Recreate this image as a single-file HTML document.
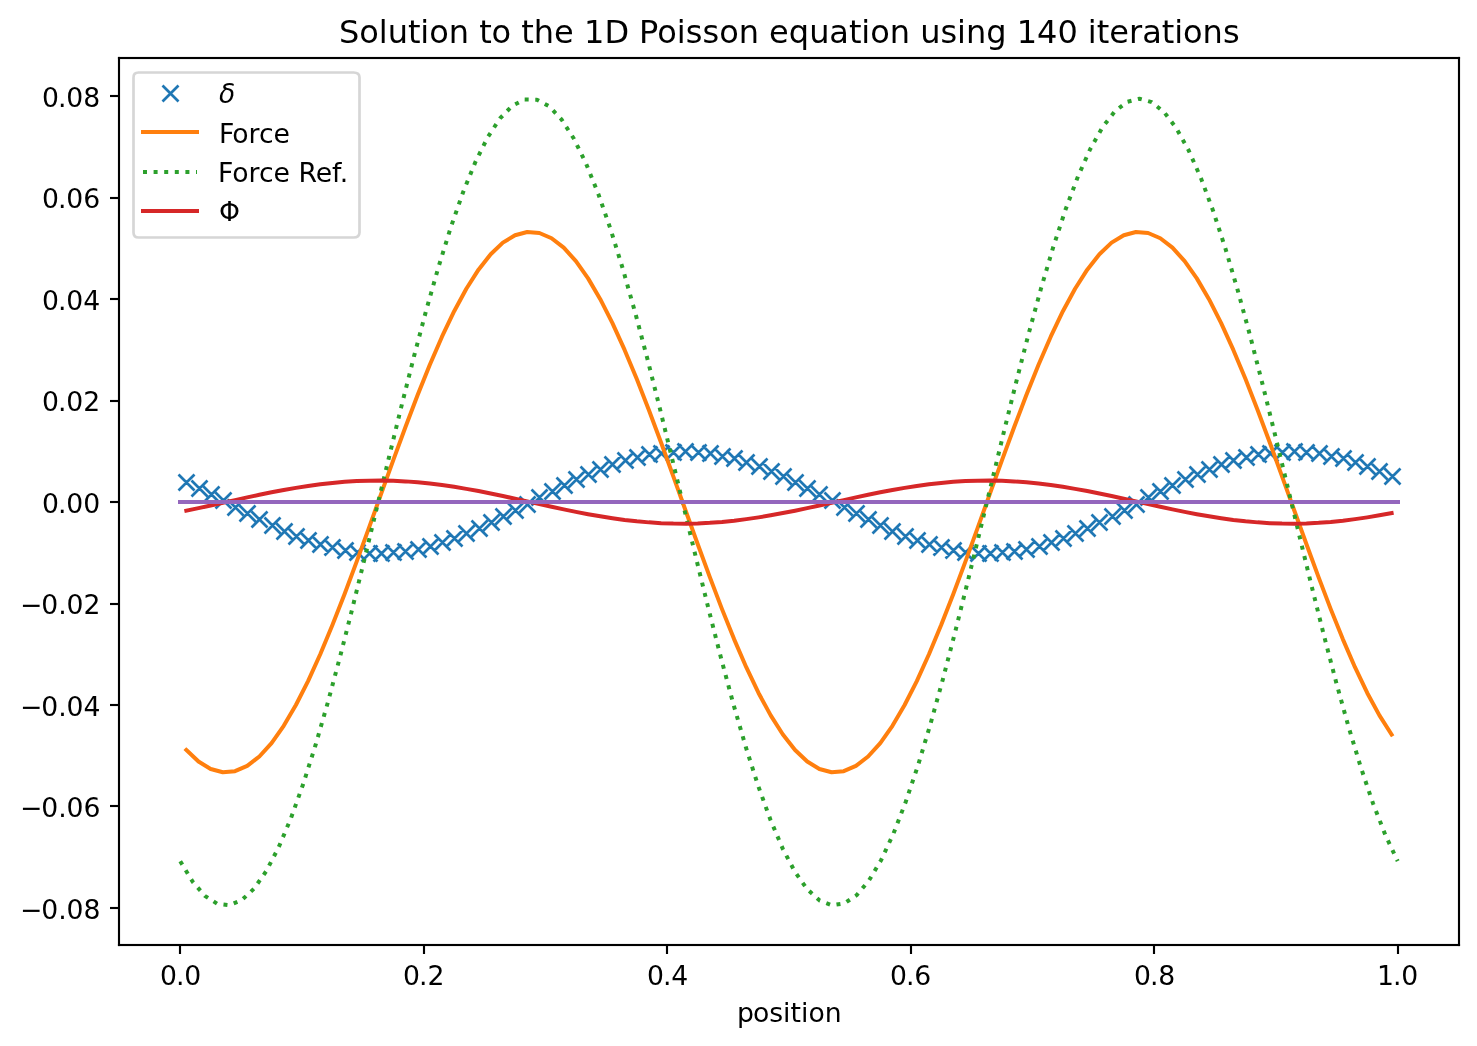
<!DOCTYPE html>
<html lang="en"><head><meta charset="utf-8"><title>Solution to the 1D Poisson equation</title>
<style>html,body{margin:0;padding:0;background:#fff}body{width:1477px;height:1046px;overflow:hidden;position:relative}</style>
</head><body>
<svg width="1477" height="1046" viewBox="0 0 1477 1046" style="position:absolute;left:0;top:0;display:block">
<rect x="0" y="0" width="1477" height="1046" fill="#ffffff"/>
<defs><clipPath id="axclip"><rect x="119.37" y="58.43" width="1339.2" height="887.04"/></clipPath></defs>
<text x="160.01 175.89 184.26" y="985" font-size="26.67" style="font-family:'DejaVu Sans','Liberation Sans',sans-serif">0.0</text>
<text x="402.96 418.96 427.46" y="985" font-size="26.67" style="font-family:'DejaVu Sans','Liberation Sans',sans-serif">0.2</text>
<text x="646.97 662.97 671.22" y="985" font-size="26.67" style="font-family:'DejaVu Sans','Liberation Sans',sans-serif">0.4</text>
<text x="889.98 906.1 914.23" y="985" font-size="26.67" style="font-family:'DejaVu Sans','Liberation Sans',sans-serif">0.6</text>
<text x="1133.89 1149.89 1158.14" y="985" font-size="26.67" style="font-family:'DejaVu Sans','Liberation Sans',sans-serif">0.8</text>
<text x="1377.03 1393.03 1401.28" y="985" font-size="26.67" style="font-family:'DejaVu Sans','Liberation Sans',sans-serif">1.0</text>
<text x="19.9 41.15 58.15 66.4 83.4" y="919" font-size="26.67" style="font-family:'DejaVu Sans','Liberation Sans',sans-serif">−0.08</text>
<text x="20.12 41.37 58.37 66.62 83.62" y="817" font-size="26.67" style="font-family:'DejaVu Sans','Liberation Sans',sans-serif">−0.06</text>
<text x="19.96 41.21 58.21 66.59 83.46" y="716" font-size="26.67" style="font-family:'DejaVu Sans','Liberation Sans',sans-serif">−0.04</text>
<text x="20.08 41.33 58.33 66.58 83.58" y="614" font-size="26.67" style="font-family:'DejaVu Sans','Liberation Sans',sans-serif">−0.02</text>
<text x="41.98 57.98 66.23 83.23" y="513" font-size="26.67" style="font-family:'DejaVu Sans','Liberation Sans',sans-serif">0.00</text>
<text x="41.96 58.08 66.33 83.21" y="411" font-size="26.67" style="font-family:'DejaVu Sans','Liberation Sans',sans-serif">0.02</text>
<text x="41.91 57.91 66.16 83.16" y="310" font-size="26.67" style="font-family:'DejaVu Sans','Liberation Sans',sans-serif">0.04</text>
<text x="42.05 58.05 66.3 83.3" y="208" font-size="26.67" style="font-family:'DejaVu Sans','Liberation Sans',sans-serif">0.06</text>
<text x="41.9 58.02 66.27 83.15" y="107" font-size="26.67" style="font-family:'DejaVu Sans','Liberation Sans',sans-serif">0.08</text>
<path d="M180 945v9M424 945v9M667 945v9M911 945v9M1154 945v9M1398 945v9M119 908h-9M119 806h-9M119 705h-9M119 604h-9M119 502h-9M119 401h-9M119 299h-9M119 198h-9M119 96h-9" fill="none" stroke="#000" stroke-width="2.13"/>
<text x="737.11 753.11 769.36 783.11 790.61 800.99 808.61 824.74" y="1022" font-size="26.67" style="font-family:'DejaVu Sans','Liberation Sans',sans-serif">position</text>
<path d="M178.5 490.5l16 -16m-16 0l16 16M191.5 496.5l16 -16m-16 0l16 16M203.5 502.5l16 -16m-16 0l16 16M215.5 508.5l16 -16m-16 0l16 16M227.5 515.5l16 -16m-16 0l16 16M239.5 521.5l16 -16m-16 0l16 16M251.5 527.5l16 -16m-16 0l16 16M264.5 533.5l16 -16m-16 0l16 16M276.5 539.5l16 -16m-16 0l16 16M288.5 544.5l16 -16m-16 0l16 16M300.5 548.5l16 -16m-16 0l16 16M312.5 552.5l16 -16m-16 0l16 16M324.5 555.5l16 -16m-16 0l16 16M337.5 558.5l16 -16m-16 0l16 16M349.5 560.5l16 -16m-16 0l16 16M361.5 561.5l16 -16m-16 0l16 16M373.5 561.5l16 -16m-16 0l16 16M385.5 560.5l16 -16m-16 0l16 16M397.5 559.5l16 -16m-16 0l16 16M410.5 557.5l16 -16m-16 0l16 16M422.5 554.5l16 -16m-16 0l16 16M434.5 550.5l16 -16m-16 0l16 16M446.5 546.5l16 -16m-16 0l16 16M458.5 541.5l16 -16m-16 0l16 16M471.5 536.5l16 -16m-16 0l16 16M483.5 530.5l16 -16m-16 0l16 16M495.5 524.5l16 -16m-16 0l16 16M507.5 518.5l16 -16m-16 0l16 16M519.5 512.5l16 -16m-16 0l16 16M531.5 505.5l16 -16m-16 0l16 16M544.5 499.5l16 -16m-16 0l16 16M556.5 493.5l16 -16m-16 0l16 16M568.5 487.5l16 -16m-16 0l16 16M580.5 482.5l16 -16m-16 0l16 16M592.5 477.5l16 -16m-16 0l16 16M604.5 472.5l16 -16m-16 0l16 16M617.5 468.5l16 -16m-16 0l16 16M629.5 465.5l16 -16m-16 0l16 16M641.5 462.5l16 -16m-16 0l16 16M653.5 461.5l16 -16m-16 0l16 16M665.5 460.5l16 -16m-16 0l16 16M677.5 459.5l16 -16m-16 0l16 16M690.5 460.5l16 -16m-16 0l16 16M702.5 461.5l16 -16m-16 0l16 16M714.5 464.5l16 -16m-16 0l16 16M726.5 466.5l16 -16m-16 0l16 16M738.5 470.5l16 -16m-16 0l16 16M751.5 474.5l16 -16m-16 0l16 16M763.5 479.5l16 -16m-16 0l16 16M775.5 484.5l16 -16m-16 0l16 16M787.5 490.5l16 -16m-16 0l16 16M799.5 496.5l16 -16m-16 0l16 16M811.5 502.5l16 -16m-16 0l16 16M824.5 508.5l16 -16m-16 0l16 16M836.5 515.5l16 -16m-16 0l16 16M848.5 521.5l16 -16m-16 0l16 16M860.5 527.5l16 -16m-16 0l16 16M872.5 533.5l16 -16m-16 0l16 16M884.5 539.5l16 -16m-16 0l16 16M897.5 544.5l16 -16m-16 0l16 16M909.5 548.5l16 -16m-16 0l16 16M921.5 552.5l16 -16m-16 0l16 16M933.5 555.5l16 -16m-16 0l16 16M945.5 558.5l16 -16m-16 0l16 16M957.5 560.5l16 -16m-16 0l16 16M970.5 561.5l16 -16m-16 0l16 16M982.5 561.5l16 -16m-16 0l16 16M994.5 560.5l16 -16m-16 0l16 16M1006.5 559.5l16 -16m-16 0l16 16M1018.5 557.5l16 -16m-16 0l16 16M1031.5 554.5l16 -16m-16 0l16 16M1043.5 550.5l16 -16m-16 0l16 16M1055.5 546.5l16 -16m-16 0l16 16M1067.5 541.5l16 -16m-16 0l16 16M1079.5 536.5l16 -16m-16 0l16 16M1091.5 530.5l16 -16m-16 0l16 16M1104.5 524.5l16 -16m-16 0l16 16M1116.5 518.5l16 -16m-16 0l16 16M1128.5 512.5l16 -16m-16 0l16 16M1140.5 505.5l16 -16m-16 0l16 16M1152.5 499.5l16 -16m-16 0l16 16M1164.5 493.5l16 -16m-16 0l16 16M1177.5 487.5l16 -16m-16 0l16 16M1189.5 482.5l16 -16m-16 0l16 16M1201.5 477.5l16 -16m-16 0l16 16M1213.5 472.5l16 -16m-16 0l16 16M1225.5 468.5l16 -16m-16 0l16 16M1238.5 465.5l16 -16m-16 0l16 16M1250.5 462.5l16 -16m-16 0l16 16M1262.5 461.5l16 -16m-16 0l16 16M1274.5 460.5l16 -16m-16 0l16 16M1286.5 459.5l16 -16m-16 0l16 16M1298.5 460.5l16 -16m-16 0l16 16M1311.5 461.5l16 -16m-16 0l16 16M1323.5 464.5l16 -16m-16 0l16 16M1335.5 466.5l16 -16m-16 0l16 16M1347.5 470.5l16 -16m-16 0l16 16M1359.5 474.5l16 -16m-16 0l16 16M1371.5 479.5l16 -16m-16 0l16 16M1384.5 484.5l16 -16m-16 0l16 16" fill="none" stroke="#1f77b4" stroke-width="2.67" clip-path="url(#axclip)"/>
<path d="M186.33 749.98L198.50 761.52L210.68 768.96L222.85 772.20L235.02 771.17L247.20 765.91L259.37 756.48L271.55 743.04L283.72 725.80L295.90 705.03L308.07 681.07L320.25 654.27L332.42 625.08L344.60 593.95L356.77 561.38L368.94 527.86L381.12 493.94L393.29 460.15L405.47 427.02L417.64 395.07L429.82 364.81L441.99 336.72L454.17 311.23L466.34 288.76L478.52 269.65L490.69 254.20L502.86 242.66L515.04 235.22L527.21 231.98L539.39 233.01L551.56 238.27L563.74 247.70L575.91 261.14L588.09 278.38L600.26 299.15L612.44 323.11L624.61 349.91L636.78 379.10L648.96 410.23L661.13 442.80L673.31 476.32L685.48 510.24L697.66 544.03L709.83 577.16L722.01 609.11L734.18 639.37L746.36 667.46L758.53 692.95L770.70 715.42L782.88 734.53L795.05 749.98L807.23 761.52L819.40 768.96L831.58 772.20L843.75 771.17L855.93 765.91L868.10 756.48L880.28 743.04L892.45 725.80L904.62 705.03L916.80 681.07L928.97 654.27L941.15 625.08L953.32 593.95L965.50 561.38L977.67 527.86L989.85 493.94L1002.02 460.15L1014.20 427.02L1026.37 395.07L1038.54 364.81L1050.72 336.72L1062.89 311.23L1075.07 288.76L1087.24 269.65L1099.42 254.20L1111.59 242.66L1123.77 235.22L1135.94 231.98L1148.12 233.01L1160.29 238.27L1172.46 247.70L1184.64 261.14L1196.81 278.38L1208.99 299.15L1221.16 323.11L1233.34 349.91L1245.51 379.10L1257.69 410.23L1269.86 442.80L1282.04 476.32L1294.21 510.24L1306.38 544.03L1318.56 577.16L1330.73 609.11L1342.91 639.37L1355.08 667.46L1367.26 692.95L1379.43 715.42L1391.61 734.53" fill="none" stroke="#ff7f0e" stroke-width="4" stroke-linecap="square" stroke-linejoin="round" clip-path="url(#axclip)"/>
<path d="M180.24 861.22L192.54 881.57L204.83 895.81L217.13 903.72L229.43 905.16L241.73 900.12L254.02 888.68L266.32 871.01L278.62 847.41L290.92 818.25L303.21 784.00L315.51 745.22L327.81 702.53L340.11 656.61L352.40 608.20L364.70 558.09L377.00 507.08L389.30 455.98L401.59 405.63L413.89 356.83L426.19 310.37L438.49 266.99L450.78 227.40L463.08 192.22L475.38 162.03L487.68 137.31L499.97 118.47L512.27 105.79L524.57 99.49L536.87 99.67L549.17 106.33L561.46 119.35L573.76 138.53L586.06 163.56L598.36 194.04L610.65 229.47L622.95 269.29L635.25 312.86L647.55 359.47L659.84 408.38L672.14 458.79L684.44 509.90L696.74 560.89L709.03 610.93L721.33 659.21L733.63 704.97L745.93 747.47L758.22 786.02L770.52 820.00L782.82 848.86L795.12 872.14L807.41 889.47L819.71 900.57L832.01 905.25L844.31 903.45L856.60 895.19L868.90 880.60L881.20 859.93L893.50 833.49L905.79 801.73L918.09 765.14L930.39 724.32L942.69 679.93L954.98 632.67L967.28 583.31L979.58 532.64L991.88 481.49L1004.17 430.66L1016.47 380.99L1028.77 333.26L1041.07 288.25L1053.36 246.68L1065.66 209.22L1077.96 176.47L1090.26 148.96L1102.55 127.13L1114.85 111.34L1127.15 101.84L1139.45 98.77L1151.74 102.19L1164.04 112.05L1176.34 128.18L1188.64 150.34L1200.93 178.15L1213.23 211.17L1225.53 248.87L1237.83 290.65L1250.12 335.83L1262.42 383.69L1274.72 433.45L1287.02 484.31L1299.31 535.46L1311.61 586.08L1323.91 635.34L1336.21 682.46L1348.50 726.67L1360.80 767.28L1373.10 803.61L1385.40 835.10L1397.69 861.22" fill="none" stroke="#2ca02c" stroke-width="4" stroke-linecap="butt" stroke-linejoin="round" stroke-dasharray="4 6.6" clip-path="url(#axclip)"/>
<path d="M186.33 510.68L198.50 508.13L210.68 505.49L222.85 502.79L235.02 500.09L247.20 497.41L259.37 494.81L271.55 492.33L283.72 489.99L295.90 487.85L308.07 485.93L320.25 484.27L332.42 482.89L344.60 481.81L356.77 481.05L368.94 480.63L381.12 480.54L393.29 480.79L405.47 481.38L417.64 482.29L429.82 483.52L441.99 485.04L454.17 486.82L466.34 488.85L478.52 491.09L490.69 493.50L502.86 496.05L515.04 498.69L527.21 501.39L539.39 504.09L551.56 506.77L563.74 509.37L575.91 511.85L588.09 514.19L600.26 516.33L612.44 518.25L624.61 519.91L636.78 521.29L648.96 522.37L661.13 523.13L673.31 523.55L685.48 523.64L697.66 523.39L709.83 522.80L722.01 521.89L734.18 520.66L746.36 519.14L758.53 517.36L770.70 515.33L782.88 513.09L795.05 510.68L807.23 508.13L819.40 505.49L831.58 502.79L843.75 500.09L855.93 497.41L868.10 494.81L880.28 492.33L892.45 489.99L904.62 487.85L916.80 485.93L928.97 484.27L941.15 482.89L953.32 481.81L965.50 481.05L977.67 480.63L989.85 480.54L1002.02 480.79L1014.20 481.38L1026.37 482.29L1038.54 483.52L1050.72 485.04L1062.89 486.82L1075.07 488.85L1087.24 491.09L1099.42 493.50L1111.59 496.05L1123.77 498.69L1135.94 501.39L1148.12 504.09L1160.29 506.77L1172.46 509.37L1184.64 511.85L1196.81 514.19L1208.99 516.33L1221.16 518.25L1233.34 519.91L1245.51 521.29L1257.69 522.37L1269.86 523.13L1282.04 523.55L1294.21 523.64L1306.38 523.39L1318.56 522.80L1330.73 521.89L1342.91 520.66L1355.08 519.14L1367.26 517.36L1379.43 515.33L1391.61 513.09" fill="none" stroke="#d62728" stroke-width="4" stroke-linecap="square" stroke-linejoin="round" clip-path="url(#axclip)"/>
<path d="M180 502H1398" fill="none" stroke="#9467bd" stroke-width="4" stroke-linecap="square"/>
<path d="M119 945V58" fill="none" stroke="#000" stroke-width="2.13" stroke-linecap="square"/>
<path d="M1459 945V58" fill="none" stroke="#000" stroke-width="2.13" stroke-linecap="square"/>
<path d="M119 945H1459" fill="none" stroke="#000" stroke-width="2.13" stroke-linecap="square"/>
<path d="M119 58H1459" fill="none" stroke="#000" stroke-width="2.13" stroke-linecap="square"/>
<path d="M118 56h2v1h-2zM118 946h2v1h-2zM1458 56h2v1h-2zM1458 946h2v1h-2z" fill="#000" fill-opacity="0.0667"/>
<path d="M118 56h1342v1h-1342zM120.07 59h1337.87v1h-1337.87zM120.07 943h1337.87v1h-1337.87zM118 946h1342v1h-1342zM110 906h8v1h-8zM110 909h8v1h-8zM110 804h8v1h-8zM110 807h8v1h-8zM110 703h8v1h-8zM110 706h8v1h-8zM110 602h8v1h-8zM110 605h8v1h-8zM110 500h8v1h-8zM110 503h8v1h-8zM110 399h8v1h-8zM110 402h8v1h-8zM110 297h8v1h-8zM110 300h8v1h-8zM110 196h8v1h-8zM110 199h8v1h-8zM110 94h8v1h-8zM110 97h8v1h-8z" fill="#000" fill-opacity="0.0667"/>
<text x="339.09 359.34 378.84 387.84 408.09 420.34 429.34 448.84 468.71 479.34 491.59 510.84 521.34 533.84 554.09 573.46 584.09 604.59 628.71 639.09 657.34 676.84 685.84 702.59 719.34 738.84 758.71 769.09 788.84 809.34 829.34 849.09 861.34 870.34 889.84 909.71 920.34 940.59 957.09 966.09 986.34 1006.21 1016.84 1037.09 1057.59 1077.46 1087.84 1096.84 1109.34 1129.09 1142.34 1161.84 1174.21 1183.09 1202.59 1223.09" y="43" font-size="32" style="font-family:'DejaVu Sans','Liberation Sans',sans-serif">Solution to the 1D Poisson equation using 140 iterations</text>
<path d="M138.5 237.5L353.5 237.5Q359.5 237.5 359.5 232.5L359.5 77.5Q359.5 72.5 353.5 72.5L138.5 72.5Q133.5 72.5 133.5 77.5L133.5 232.5Q133.5 237.5 138.5 237.5z" fill="#fff" stroke="#ccc" stroke-width="2.67" stroke-linejoin="miter" opacity="0.8"/>
<path d="M162.5 101.5l16 -16m-16 0l16 16" fill="none" stroke="#1f77b4" stroke-width="2.67"/>
<path d="M143 132H197" fill="none" stroke="#ff7f0e" stroke-width="4" stroke-linecap="square"/>
<path d="M143 172H197" fill="none" stroke="#2ca02c" stroke-width="4" stroke-linecap="butt" stroke-dasharray="4 6.6"/>
<path d="M143 211H197" fill="none" stroke="#d62728" stroke-width="4" stroke-linecap="square"/>
<text x="218.96" y="103" font-size="26.67" font-style="oblique" style="font-family:'DejaVu Sans','Liberation Sans',sans-serif">δ</text>
<text x="219.09 232.34 248.47 259.09 273.59" y="143" font-size="26.67" style="font-family:'DejaVu Sans','Liberation Sans',sans-serif">Force</text>
<text x="218.1 232.35 248.48 259.1 273.6 290.1 298.6 315.73 332.1 339.85" y="182" font-size="26.67" style="font-family:'DejaVu Sans','Liberation Sans',sans-serif">Force Ref.</text>
<text x="218.91" y="221" font-size="26.67" style="font-family:'DejaVu Sans','Liberation Sans',sans-serif">Φ</text>
</svg>
</body></html>
